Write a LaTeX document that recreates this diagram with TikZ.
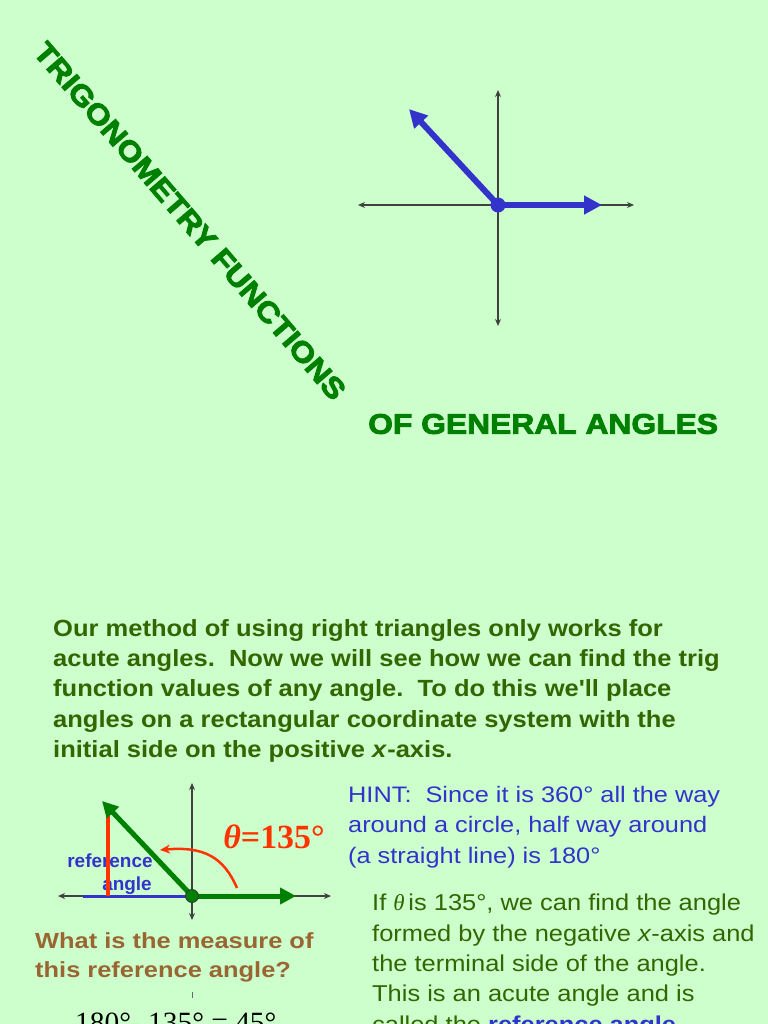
\documentclass[tikz,border=0pt]{standalone}
\usepackage{fontspec}
\setmainfont{Liberation Sans}
\newfontfamily\timesfont{Liberation Serif}
\newfontfamily\titlefont[FakeStretch=1.12,FakeBold=3]{Liberation Sans}
\newfontfamily\introfont[FakeStretch=1.09]{Liberation Sans}
\newfontfamily\hintfont[FakeStretch=1.13]{Liberation Sans}
\newfontfamily\explainfont[FakeStretch=1.11]{Liberation Sans}
\newfontfamily\questionfont[FakeStretch=1.16]{Liberation Sans}
\usepackage{tikz}
\usetikzlibrary{positioning, arrows.meta}
\usepackage{xcolor}
\definecolor{bgcolor}{RGB}{204,255,204}
\definecolor{titlecolor}{RGB}{0,128,0}
\definecolor{textcolor}{RGB}{51,102,0}
\definecolor{hintcolor}{RGB}{51,51,204}
\definecolor{vectorcolor}{RGB}{51,51,204}
\definecolor{sidecolor}{RGB}{0,128,0}
\definecolor{anglecolor}{RGB}{255,51,0}
\definecolor{questioncolor}{RGB}{153,102,51}

\begin{document}
\begin{tikzpicture}[x=1bp,y=-1bp]
  \tikzset{
    axis/.style={
      draw=black!75,
      line width=1.2bp,
      {Stealth[length=7bp,width=6bp]}-{Stealth[length=7bp,width=6bp]}
    },
    bluevec/.style={
      draw=vectorcolor,
      line width=6bp,
      -{Triangle[length=18bp,width=18bp]}
    },
    greenvec/.style={
      draw=sidecolor,
      line width=5bp,
      -{Triangle[length=16bp,width=16bp]}
    },
    title/.style={
      font=\fontsize{29}{34}\titlefont\bfseries,
      text=titlecolor,
      inner sep=0pt
    },
    para/.style={
      align=left,
      inner sep=0pt,
      anchor=north west
    }
  }

  % Background and page size
  \fill[bgcolor] (0,0) rectangle (768,1024);
  \useasboundingbox (0,0) rectangle (768,1024);
  \clip (0,0) rectangle (768,1024);

  % Draw the title
  \node[title, rotate=-49.3] at (190,221) (title1) {TRIGONOMETRY FUNCTIONS};
  \node[title, font=\fontsize{28.5}{32}\titlefont\bfseries, anchor=west] at (368,424) (title2) {OF GENERAL ANGLES};

  % Top axes with the two rays
  \coordinate (o1) at (498,205);
  \coordinate (xl1) at (358,205);
  \coordinate (xr1) at (634,205);
  \coordinate (yt1) at (498,90);
  \coordinate (yb1) at (498,326);
  \coordinate (init1) at (602,205);
  \coordinate (term1) at (409,109);
  \draw[axis] (xl1) -- (xr1);
  \draw[axis] (yb1) -- (yt1);
  \draw[bluevec] (o1) -- (init1);
  \draw[bluevec] (o1) -- (term1);
  \fill[vectorcolor] (o1) circle (7.5);

  % Intro paragraph
  \node[para, font=\fontsize{23.5}{30.5}\introfont\bfseries, text=textcolor] at (53,619) (intro) {%
    Our method of using right triangles only works for\\
    acute angles.\ \ Now we will see how we can find the trig\\
    function values of any angle.\ \ To do this we'll place\\
    angles on a rectangular coordinate system with the\\
    initial side on the positive \textit{x}-axis.};

  % Bottom axes with 135 degree angle
  \coordinate (o2) at (192,896);
  \coordinate (xl2) at (58,896);
  \coordinate (xr2) at (331,896);
  \coordinate (yt2) at (192,783);
  \coordinate (yb2) at (192,920);
  \coordinate (init2) at (296,896);
  \coordinate (term2) at (102,801);
  \coordinate (reft) at (108,806);
  \coordinate (refb) at (108,896);
  \coordinate (refl) at (83,896);
  \coordinate (arcs) at (237,888);
  \coordinate (arce) at (160,850);
  \draw[axis] (xl2) -- (xr2);
  \draw[axis] (yb2) -- (yt2);
  \draw[vectorcolor, line width=3bp] (refl) -- (o2);
  \node[font=\fontsize{19}{21}\selectfont\bfseries, text=hintcolor, anchor=base] at (110,867) (reflabel1) {reference};
  \node[font=\fontsize{19}{21}\selectfont\bfseries, text=hintcolor, anchor=base] at (127,890) (reflabel2) {angle};
  \draw[anglecolor, line width=4bp] (refb) -- (reft);
  \draw[greenvec] (o2) -- (init2);
  \draw[greenvec] (o2) -- (term2);
  \filldraw[fill=sidecolor, draw=black!80, line width=0.8bp] (o2) circle (6.5);
  \draw[anglecolor, line width=2.5bp, -{Stealth[length=10bp,width=9bp]}]
    (arcs) .. controls (224,858) and (205,846) .. (arce);
  \node[font=\fontsize{34}{36}\timesfont\bfseries, text=anglecolor, anchor=base] at (274,848) (theta) {\textit{θ}=135°};

  % Question
  \node[para, font=\fontsize{22}{30}\questionfont\bfseries, text=questioncolor] at (35,932) (question) {%
    What is the measure of\\
    this reference angle?};
  \draw[black!60, line width=1bp] (192,992) -- (192,998);
  \node[font=\fontsize{29.5}{36}\timesfont, anchor=base west, inner sep=0pt] at (75,1032) (answer) {180°- 135° = 45°};

  % Hint
  \node[para, font=\fontsize{22.5}{30.5}\hintfont, text=hintcolor] at (348,786) (hint) {%
    HINT:\ \ Since it is 360° all the way\\
    around a circle, half way around\\
    (a straight line) is 180°};

  % Explanation
  \node[para, font=\fontsize{23}{30.5}\explainfont, text=textcolor] at (372,894) (explain) {%
    If {\timesfont\textit{θ}}\,is 135°, we can find the angle\\
    formed by the negative \textit{x}-axis and\\
    the terminal side of the angle.\\
    This is an acute angle and is\\
    called the \textbf{\textcolor{hintcolor}{reference angle}}.};
\end{tikzpicture}
\end{document}
